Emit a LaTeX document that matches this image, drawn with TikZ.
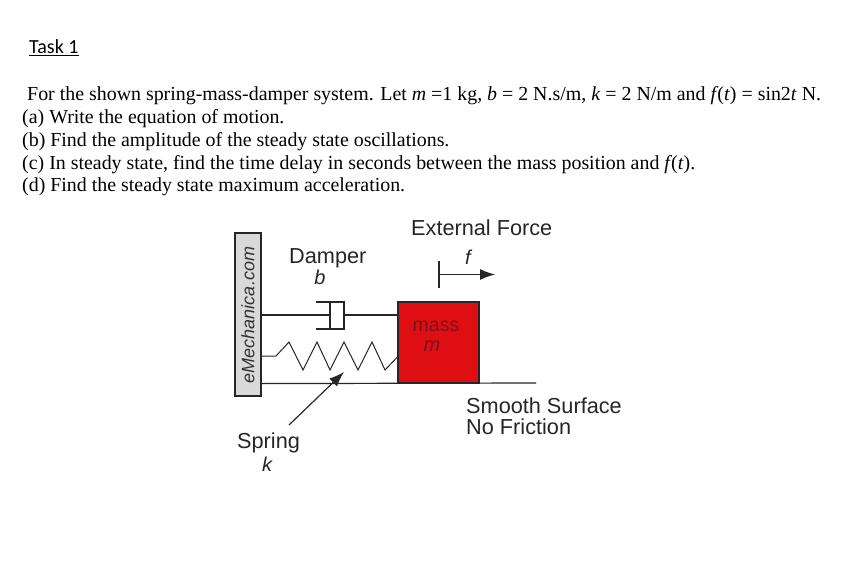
\documentclass[tikz,border=0pt]{standalone}
\usepackage{fontspec}
\setmainfont{Liberation Serif}
\newfontfamily\dsans{Liberation Sans}
\newfontfamily\tsans{Carlito}
\usetikzlibrary{arrows.meta}
\definecolor{massred}{RGB}{222,14,18}
\definecolor{masstext}{RGB}{120,20,25}
\tikzset{
 body/.style={anchor=base west,inner sep=0pt,font=\fontsize{19.9}{22}\selectfont},
 lab/.style={anchor=base west,inner sep=0pt,text=black!85,font=\dsans\fontsize{21.7}{24}\selectfont},
 sym/.style={anchor=base,inner sep=0pt,text=black!85,font=\dsans\itshape\fontsize{20}{22}\selectfont},
 ln/.style={draw=black!85,line width=1.2pt},
 head/.style={-{Latex[length=15pt,width=11pt]}},
}
\begin{document}
\begin{tikzpicture}[x=1pt,y=-1pt]
\useasboundingbox[fill=white] (0,0) rectangle (851,572);
\node[anchor=base west,inner sep=0pt,font=\tsans\fontsize{20}{24}\selectfont] (task) at (29,54) {\underline{Task 1}};
\node[body] (intro) at (27,101) {For the shown spring-mass-damper system. Let \textit{m} =1 kg, \textit{b} = 2 N.s/m, \textit{k} = 2 N/m and \textit{f}\kern-1pt(\textit{t}) = sin2\textit{t} N.};
\node[body] (qa) at (22,124) {(a) Write the equation of motion.};
\node[body] (qb) at (22,147) {(b) Find the amplitude of the steady state oscillations.};
\node[body] (qc) at (22,170) {(c) In steady state, find the time delay in seconds between the mass position and \textit{f}\kern-1pt(\textit{t}).};
\node[body] (qd) at (22,192) {(d) Find the steady state maximum acceleration.};
% wall
\node[draw=black!85,line width=1.2pt,fill=black!15,minimum width=26pt,minimum height=163pt,inner sep=0pt] (wall) at (248,314.5) {};
\node[rotate=90,inner sep=0pt,text=black!80,font=\dsans\itshape\fontsize{18}{22}\selectfont] (brand) at (248,315) {eMechanica.com};
% mass
\node[draw=black!85,line width=1.2pt,fill=massred,minimum width=81pt,minimum height=81pt,inner sep=0pt] (mass) at (438.5,342.5) {};
\node[lab,anchor=base,text=masstext,font=\dsans\fontsize{19.5}{22}\selectfont] (masst) at (436,331) {mass};
\node[sym,text=masstext] (m) at (432,351) {\textit{m}};
% ground
\coordinate (g0) at (wall.east |- mass.south);
\coordinate (g1) at (536,383);
\draw[ln] (g0) -- (g1);
% damper
\coordinate (wd) at (wall.east |- 0,315);
\coordinate (p) at (330,315);
\coordinate (c) at (344,315);
\coordinate (md) at (mass.west |- 0,315);
\draw[ln] (wd) -- (p) (c) -- (md);
\draw[ln] (330,302) -- (330,329);
\draw[ln] (316,302) -- (344,302) -- (344,329) -- (316,329);
% spring
\coordinate (ws) at (wall.east |- 0,356);
\coordinate (ms) at (mass.west |- 0,357);
\draw[ln,line width=1pt] (ws) -- (276,356) -- (289,342) -- (303,370) -- (317,342) -- (330,370) -- (344,342) -- (358,370) -- (372,342) -- (385,370) -- (ms);
% labels
\node[lab] (damper) at (289,263) {Damper};
\node[sym] (b) at (320,284) {b};
\node[lab] (ext) at (411,236) {External Force};
\node[sym] (f) at (468,264) {f};
\coordinate (f0) at (439,274.5);
\coordinate (f1) at (495,274.5);
\draw[ln] (439,261) -- (439,288);
\draw[ln,head] (f0) -- (f1);
\node[lab] (spring) at (237,448) {Spring};
\node[sym] (k) at (267,471) {k};
\coordinate (s0) at (289,425);
\coordinate (s1) at (344,372);
\draw[ln,head] (s0) -- (s1);
\node[lab] (smooth) at (466,413) {Smooth Surface};
\node[lab] (nofric) at (466,434) {No Friction};
\end{tikzpicture}
\end{document}
